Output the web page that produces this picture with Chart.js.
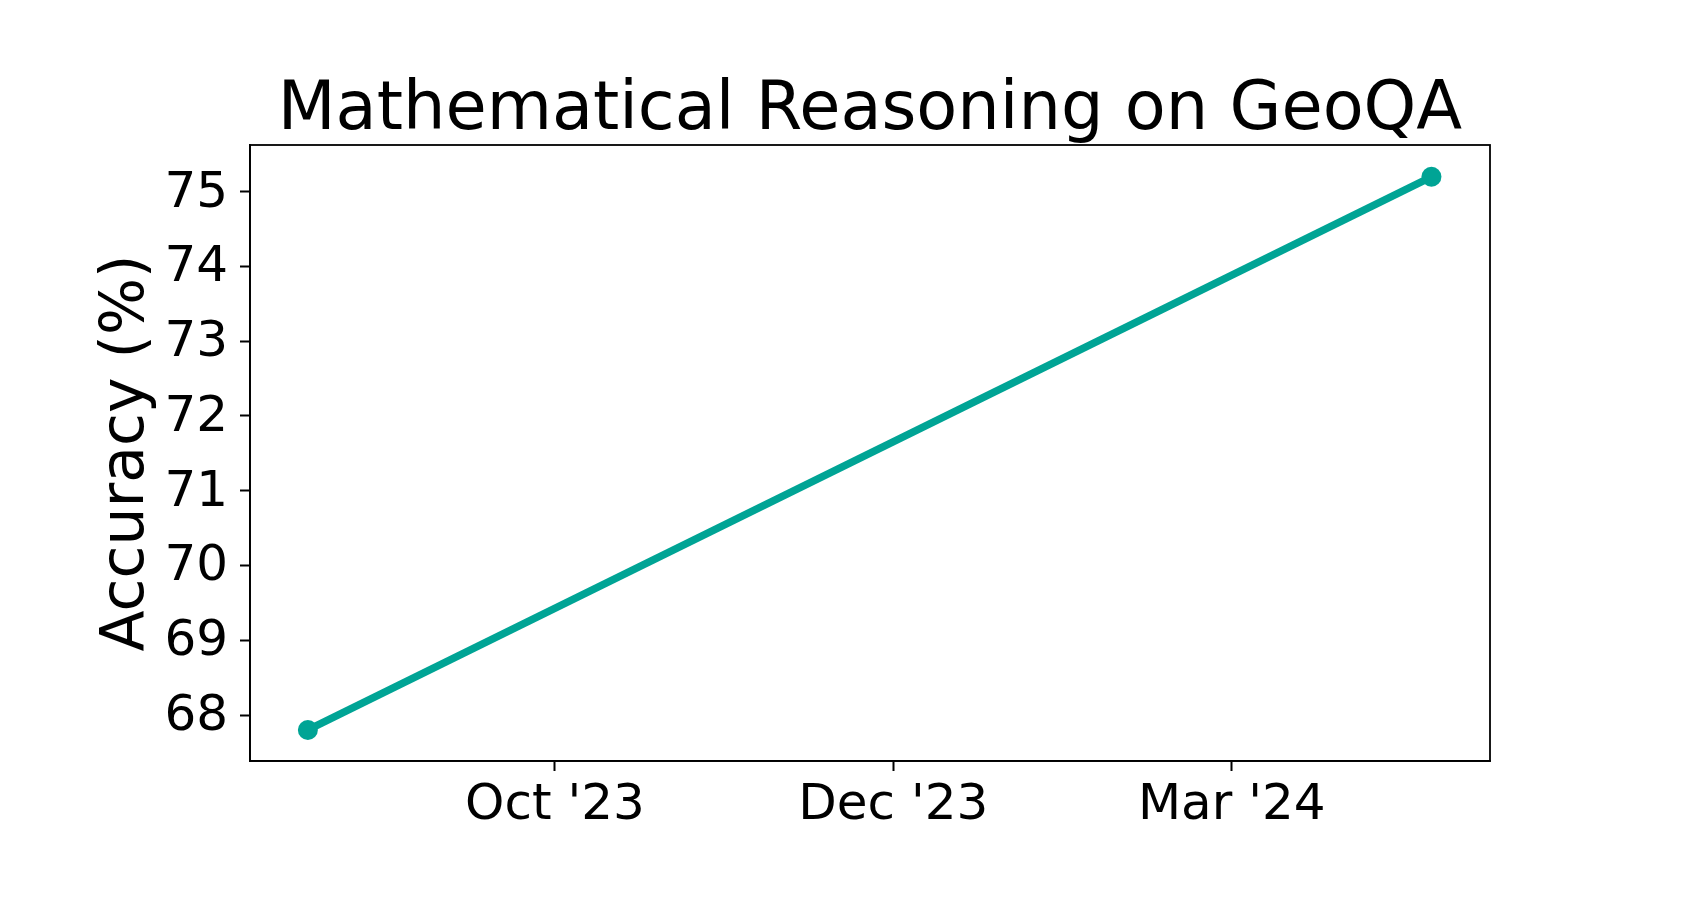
<!DOCTYPE html>
<html>
<head>
<meta charset="utf-8">
<script src="https://cdn.jsdelivr.net/npm/chart.js@4.4.1/dist/chart.umd.min.js"></script>
<style>
  html, body { margin: 0; padding: 0; background: #ffffff; }
  #wrap { width: 1700px; height: 900px; position: relative; }
</style>
</head>
<body>
<div id="wrap"><canvas id="c" width="1700" height="900"></canvas></div>
<script>
// ---- data ----
const chartTitle = "Mathematical Reasoning on GeoQA";
const yAxisTitle = "Accuracy (%)";
// x positions on a month-tick index scale (1 = Oct '23, 2 = Dec '23, 3 = Mar '24)
const pointX = [0.27, 3.59];
const accuracy = [67.8, 75.2];
const xTickPositions = [1, 2, 3];
const xTickLabels = ["Oct '23", "Dec '23", "Mar '24"];
const yTickValues = [68, 69, 70, 71, 72, 73, 74, 75];
const xRange = [0.099, 3.763];
const yRange = [67.385, 75.625];

const lineColor = "#00a495";
const FONT = "'DejaVu Sans', sans-serif";

const framePlugin = {
  id: 'frame',
  afterDraw(chart) {
    const { ctx, chartArea: a } = chart;
    ctx.save();
    ctx.strokeStyle = '#000';
    ctx.lineWidth = 1.8;
    ctx.strokeRect(a.left, a.top, a.right - a.left, a.bottom - a.top);
    // title centred over the plot area
    ctx.fillStyle = '#000';
    ctx.font = "67px " + FONT;
    ctx.textAlign = 'center';
    ctx.textBaseline = 'alphabetic';
    ctx.fillText(chartTitle, (a.left + a.right) / 2, 129);
    ctx.restore();
  }
};

new Chart(document.getElementById('c'), {
  type: 'line',
  data: {
    datasets: [{
      data: pointX.map((x, i) => ({ x: x, y: accuracy[i] })),
      borderColor: lineColor,
      backgroundColor: lineColor,
      borderWidth: 7.5,
      pointRadius: 10,
      pointBorderWidth: 0,
      pointBackgroundColor: lineColor,
      tension: 0,
      clip: false
    }]
  },
  options: {
    responsive: false,
    animation: false,
    devicePixelRatio: 1,
    layout: { padding: { left: 0, right: 210, top: 145, bottom: 0 } },
    plugins: {
      legend: { display: false },
      tooltip: { enabled: false },
      title: { display: false }
    },
    scales: {
      x: {
        type: 'linear',
        min: xRange[0],
        max: xRange[1],
        afterBuildTicks(scale) {
          scale.ticks = xTickPositions.map(v => ({ value: v }));
        },
        afterFit(scale) { scale.height = 139; },
        ticks: {
          color: '#000',
          font: { family: FONT, size: 50 },
          padding: 5,
          maxRotation: 0,
          autoSkip: false,
          callback(value) {
            const i = xTickPositions.indexOf(value);
            return i >= 0 ? xTickLabels[i] : '';
          }
        },
        grid: {
          drawOnChartArea: false,
          drawTicks: true,
          tickLength: 10,
          tickWidth: 2,
          tickColor: '#000'
        },
        border: { display: true, color: '#000', width: 1.8 }
      },
      y: {
        type: 'linear',
        min: yRange[0],
        max: yRange[1],
        afterBuildTicks(scale) {
          scale.ticks = yTickValues.map(v => ({ value: v }));
        },
        afterFit(scale) { scale.width = 250; },
        ticks: {
          color: '#000',
          font: { family: FONT, size: 50 },
          padding: 12,
          labelOffset: 2,
          autoSkip: false,
          callback(value) { return String(value); }
        },
        title: {
          display: true,
          text: yAxisTitle,
          color: '#000',
          font: { family: FONT, size: 60 },
          padding: { top: 91, bottom: 0 }
        },
        grid: {
          drawOnChartArea: false,
          drawTicks: true,
          tickLength: 10,
          tickWidth: 2,
          tickColor: '#000'
        },
        border: { display: true, color: '#000', width: 1.8 }
      }
    }
  },
  plugins: [framePlugin]
});
</script>
</body>
</html>
